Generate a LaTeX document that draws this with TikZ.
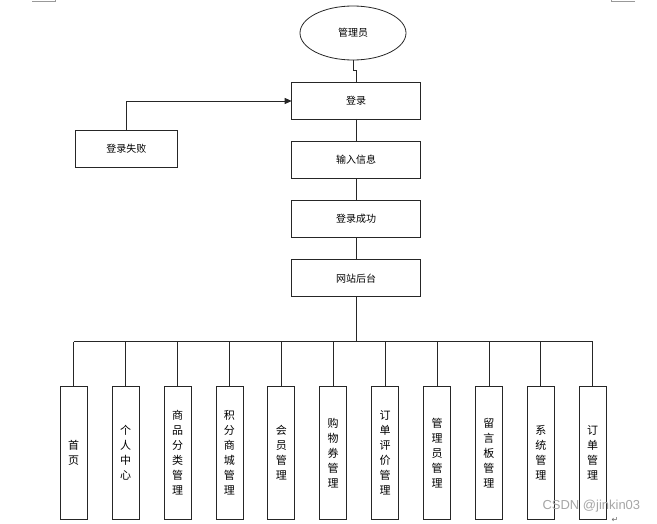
\documentclass[tikz,border=0pt]{standalone}
\usepackage{fontspec}
\newfontfamily\cjk{Noto Sans CJK SC}
\newfontfamily\wm{Liberation Sans}
\newfontfamily\dejavu{DejaVu Sans}
\usetikzlibrary{shapes.geometric,arrows.meta}
\begin{document}
\begin{tikzpicture}[x=1pt,y=-1pt,
  line width=0.8pt,
  every node/.style={inner sep=0pt,outer sep=0pt},
  topbox/.style={draw=black!85,fill=white,minimum width=129pt,minimum height=37pt,font=\cjk\fontsize{10}{12}\selectfont},
  subbox/.style={draw=black!85,fill=white,minimum width=27pt,minimum height=133pt,font=\cjk\fontsize{11}{15}\selectfont,align=center},
  conn/.style={draw=black!85,line width=0.8pt},
  cornermark/.style={draw=black!40,line width=0.8pt}
]
\useasboundingbox (0,0) rectangle (657,524);
% page corner marks
\draw[cornermark] (32,1.5) -- (55.5,1.5) -- (55.5,0);
\draw[cornermark] (635,1.5) -- (611,1.5) -- (611,0);

\node[ellipse,draw=black!85,minimum width=106pt,minimum height=54pt,font=\cjk\fontsize{10}{12}\selectfont] (admin) at (353,33) {管理员};
\node[topbox] (login) at (356.2,100.5) {登录};
\node[topbox,minimum width=102.5pt] (fail) at (126.3,148.8) {登录失败};
\node[topbox] (input) at (356.2,160) {输入信息};
\node[topbox] (ok) at (356.2,219.2) {登录成功};
\node[topbox] (site) at (356.2,278.4) {网站后台};

\coordinate (j1) at (353,70.5);
\coordinate (j2) at (356.7,70.5);
\draw[conn] (admin.south) -- (j1) -- (j2) -- (j2 |- login.north);
\coordinate (fc) at (126.5,101);
\draw[conn,-{Triangle[length=7pt,width=6pt]}] (fail.north -| fc) -- (fc) -- (login.west |- fc);
\draw[conn] (login.south -| j2) -- (input.north -| j2);
\draw[conn] (input.south -| j2) -- (ok.north -| j2);
\draw[conn] (ok.south -| j2) -- (site.north -| j2);
\coordinate (bus) at (356.2,341.7);
\draw[conn] (site.south -| bus) -- (bus);

\foreach \i/\t in {0/{首\\页},1/{个\\人\\中\\心},2/{商\\品\\分\\类\\管\\理},3/{积\\分\\商\\城\\管\\理},4/{会\\员\\管\\理},5/{购\\物\\券\\管\\理},6/{订\\单\\评\\价\\管\\理},7/{管\\理\\员\\管\\理},8/{留\\言\\板\\管\\理},9/{系\\统\\管\\理},10/{订\\单\\管\\理}}{
  \node[subbox] (m\i) at ({73.7+51.9*\i},452.8) {\t};
  \draw[conn] (m\i.north) -- (m\i.north |- bus);
}
\draw[conn] (m0.north |- bus) -- (m10.north |- bus);

% watermark
\node[font=\wm\fontsize{13}{13}\selectfont,text=black!35,anchor=west] (wmark) at (542.5,506) {CSDN @jinkin03};
\node[font=\dejavu\fontsize{8}{8}\selectfont,text=black!60] (ret) at (615,520) {↵};
\end{tikzpicture}
\end{document}
